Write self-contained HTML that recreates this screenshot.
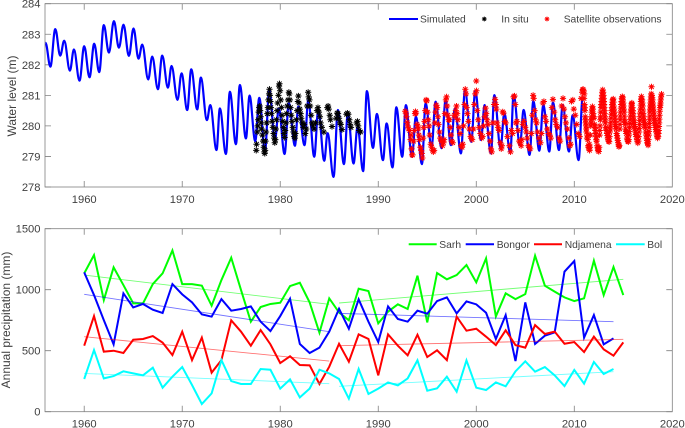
<!DOCTYPE html>
<html lang="en">
<head>
<meta charset="utf-8">
<title>Water level and annual precipitation</title>
<style>
html,body{margin:0;padding:0;background:#fff;}
svg{display:block;font-family:"Liberation Sans",Arial,sans-serif;filter:blur(0.3px);}
text{fill:#404040;}
</style>
</head>
<body>
<svg id="chart" xmlns="http://www.w3.org/2000/svg" width="685" height="428" viewBox="0 0 685 428">
  <text transform="translate(16 96) rotate(-90)" text-anchor="middle" font-size="12">Water level (m)</text>
  <text transform="translate(10 320) rotate(-90)" text-anchor="middle" font-size="12">Annual precipitation (mm)</text>

  <g font-size="10.3">
    <line x1="389" x2="418" y1="19" y2="19" stroke="#0000ff" stroke-width="2"/>
    <text x="420" y="22.5">Simulated</text>
    <text x="501.3" y="22.5">In situ</text>
    <text x="563.7" y="22.5">Satellite observations</text>
  </g>
  <g font-size="10.3">
    <line x1="408.7" x2="436.7" y1="244.3" y2="244.3" stroke="#00ff00" stroke-width="2"/>
    <text x="439.3" y="248">Sarh</text>
    <line x1="465.7" x2="494" y1="244.3" y2="244.3" stroke="#0000ff" stroke-width="2"/>
    <text x="496.7" y="248">Bongor</text>
    <line x1="534" x2="562" y1="244.3" y2="244.3" stroke="#ff0000" stroke-width="2"/>
    <text x="564.7" y="248">Ndjamena</text>
    <line x1="616" x2="644.7" y1="244.3" y2="244.3" stroke="#00ffff" stroke-width="2"/>
    <text x="647.3" y="248">Bol</text>
  </g>
</svg>
<script>
const xTickLabels = [1960, 1970, 1980, 1990, 2000, 2010, 2020];
const levelTickLabels = [278, 279, 280, 281, 282, 283, 284];
const precipTickLabels = [0, 500, 1000, 1500];

const simulatedExtrema = [[1956.05,282.72],[1956.55,281.94],[1957.05,283.17],[1957.55,282.3],[1957.96,282.79],[1958.54,281.81],[1958.95,282.5],[1959.52,281.48],[1960,282.61],[1960.54,281.59],[1961.02,282.69],[1961.53,281.76],[1962,283.3],[1962.52,282.4],[1963.03,283.43],[1963.54,282.56],[1964.01,283.31],[1964.56,282.29],[1965.03,283.19],[1965.54,282.2],[1965.92,282.66],[1966.53,281.52],[1966.94,282.27],[1967.52,281.2],[1967.96,282.3],[1968.54,281.25],[1968.91,281.96],[1969.52,280.85],[1969.93,281.72],[1970.51,280.52],[1970.92,281.85],[1971.53,280.54],[1971.9,281.58],[1972.52,280.19],[1972.86,280.68],[1973.5,279.21],[1973.84,280.57],[1974.46,279.08],[1974.86,281.12],[1975.48,279.4],[1975.88,281.34],[1976.5,279.59],[1976.87,280.99],[1977.45,279.5],[1977.86,280.92],[1978.44,279.16],[1978.88,281.17],[1979.46,279.54],[1979.86,280.57],[1980.44,279.08],[1980.88,280.74],[1981.5,279.35],[1981.84,280.63],[1982.48,279.37],[1982.86,280.85],[1983.47,278.99],[1983.88,280.52],[1984.49,278.86],[1984.83,279.76],[1985.44,278.33],[1985.88,280.52],[1986.5,278.75],[1986.9,280.41],[1987.48,278.77],[1987.89,279.97],[1988.46,278.52],[1988.84,281.14],[1989.46,279.28],[1989.86,280.39],[1990.48,278.88],[1990.85,280.08],[1991.46,278.64],[1991.84,280.61],[1992.45,278.99],[1992.82,280.68],[1993.44,278.99],[1993.84,280.3],[1994.46,278.75],[1994.83,280.74],[1995.44,279.32],[1995.85,280.79],[1996.46,279.27],[1996.87,280.85],[1997.41,279.37],[1997.82,280.57],[1998.44,279.1],[1998.84,281.17],[1999.49,279.48],[1999.9,281.15],[2000.48,279.54],[2000.85,280.68],[2001.5,279.1],[2001.84,281.01],[2002.48,279.27],[2002.86,280.41],[2003.47,279.12],[2003.81,281.01],[2004.46,279.37],[2004.83,280.52],[2005.44,279.05],[2005.82,280.81],[2006.43,279.19],[2006.84,280.68],[2007.45,279.16],[2007.82,280.77],[2008.44,279.21],[2008.81,280.68],[2009.46,279.16],[2009.83,280.35],[2010.44,278.88],[2010.85,280.9]];

const inSituObs = [[1977.55,279.2],[1977.58,279.4],[1977.65,279.8],[1977.7,280],[1977.75,280.2],[1977.8,280.45],[1977.85,280.6],[1977.9,280.65],[1977.95,280.5],[1978,280.3],[1978.05,280.1],[1978.1,279.9],[1978.18,279.7],[1978.25,279.5],[1978.32,279.3],[1978.38,279.15],[1978.42,279.1],[1978.46,279.2],[1978.5,279.5],[1978.55,279.8],[1978.62,280.1],[1978.68,280.4],[1978.74,280.6],[1978.8,280.85],[1978.86,281.05],[1978.9,281.2],[1978.95,281],[1979,280.8],[1979.05,280.6],[1979.1,280.4],[1979.18,280.15],[1979.25,279.95],[1979.32,279.75],[1979.38,279.6],[1979.44,279.45],[1979.5,279.55],[1979.55,279.9],[1979.62,280.2],[1979.68,280.5],[1979.74,280.75],[1979.82,281],[1979.88,281.3],[1979.92,281.38],[1979.98,281.15],[1980.05,280.85],[1980.12,280.6],[1980.18,280.35],[1980.25,280.15],[1980.32,279.95],[1980.38,279.75],[1980.45,279.62],[1980.5,279.85],[1980.58,280.1],[1980.65,280.4],[1980.72,280.65],[1980.8,280.85],[1980.88,281.1],[1980.92,281.05],[1980.98,280.85],[1981.05,280.6],[1981.12,280.35],[1981.2,280.15],[1981.28,279.95],[1981.35,279.8],[1981.42,279.65],[1981.5,279.6],[1981.55,279.75],[1981.65,280.2],[1981.72,280.5],[1981.8,280.8],[1981.85,280.98],[1981.92,280.75],[1982,280.55],[1982.08,280.4],[1982.15,280.25],[1982.25,280.1],[1982.35,279.95],[1982.45,280.05],[1982.55,279.75],[1982.65,279.9],[1982.75,280.65],[1982.85,281.1],[1982.9,280.95],[1982.98,280.85],[1983.05,280.65],[1983.15,280.35],[1983.25,280.1],[1983.35,280],[1983.45,279.9],[1983.6,280.1],[1983.75,280.5],[1983.85,280.6],[1983.95,280.45],[1984.05,280.3],[1984.12,280.1],[1984.25,279.95],[1984.45,279.8],[1984.8,280.6],[1984.88,280.65],[1984.95,280.55],[1985.05,280.35],[1985.12,280.2],[1985.28,279.98],[1985.7,280.25],[1985.8,280.42],[1985.9,280.4],[1986,280.25],[1986.1,280.1],[1986.18,280.05],[1986.3,279.88],[1986.75,280.38],[1986.85,280.42],[1986.95,280.38],[1987.05,280.2],[1987.12,280.05],[1987.22,279.95],[1987.8,280.1],[1987.88,280.15],[1987.95,280],[1988.05,279.85],[1988.2,279.8]];

const satelliteObs = [[1992.75,280.48],[1992.82,280.42],[1992.88,280.3],[1992.95,280.12],[1993,280],[1993.1,279.9],[1993.2,279.85],[1993.3,279.55],[1993.35,279.7],[1993.4,279.25],[1993.45,279.05],[1993.5,279.05],[1993.6,279.5],[1993.68,279.85],[1993.75,280.4],[1993.8,280.47],[1993.85,280.42],[1993.95,280.05],[1994.02,280],[1994.08,279.9],[1994.15,279.7],[1994.2,279.55],[1994.3,279.3],[1994.38,279.2],[1994.45,279.1],[1994.5,278.95],[1994.58,279.6],[1994.65,279.95],[1994.72,280.15],[1994.8,280.5],[1994.88,280.85],[1994.95,280.82],[1995.02,280.45],[1995.1,280.2],[1995.18,280],[1995.25,279.7],[1995.35,279.4],[1995.45,279.3],[1995.55,279.2],[1995.62,279.15],[1995.7,279.2],[1995.78,280.1],[1995.85,280.45],[1995.92,280.68],[1996,280.6],[1996.08,280.3],[1996.15,280.05],[1996.25,279.8],[1996.32,279.6],[1996.42,279.5],[1996.55,279.35],[1996.65,279.45],[1996.72,279.55],[1996.8,280.4],[1996.9,280.85],[1996.97,280.95],[1997.02,280.65],[1997.1,280.35],[1997.18,280.2],[1997.25,280.2],[1997.35,279.95],[1997.42,279.7],[1997.5,279.5],[1997.6,279.45],[1997.75,280.35],[1997.85,280.3],[1997.92,280.5],[1997.98,280.65],[1998.05,280.4],[1998.12,280.2],[1998.25,279.95],[1998.35,279.75],[1998.45,279.35],[1998.55,279.3],[1998.62,279.4],[1998.7,280],[1998.8,280.7],[1998.88,281.2],[1998.95,281.05],[1999.02,280.6],[1999.1,280.4],[1999.2,280.15],[1999.3,279.9],[1999.42,279.65],[1999.5,279.6],[1999.58,279.55],[1999.7,279.9],[1999.8,280.7],[1999.9,281.05],[2000,281.47],[2000.02,281.15],[2000.1,280.5],[2000.2,280.2],[2000.3,279.95],[2000.42,279.75],[2000.55,279.6],[2000.65,279.65],[2000.75,280],[2000.85,280.3],[2000.95,280.58],[2001.02,280.4],[2001.1,280.2],[2001.2,280.05],[2001.3,279.75],[2001.42,279.5],[2001.5,279.25],[2001.58,279.15],[2001.7,280.1],[2001.82,280.7],[2001.92,280.87],[2002,280.7],[2002.05,280.55],[2002.12,280.1],[2002.22,279.95],[2002.32,279.85],[2002.45,279.45],[2002.55,279.25],[2002.62,279.35],[2002.7,280.46],[2002.78,280.42],[2002.9,280.15],[2003,280.1],[2003.18,279.65],[2003.38,279.35],[2003.5,279.15],[2003.58,279.85],[2003.7,279.75],[2003.8,280.95],[2003.9,280.98],[2003.98,280.7],[2004.05,280.1],[2004.15,280.15],[2004.25,279.85],[2004.38,279.5],[2004.48,279.45],[2004.58,279.35],[2004.65,279.55],[2004.75,280.05],[2004.85,280.15],[2005,279.95],[2005.1,279.8],[2005.2,279.6],[2005.32,279.35],[2005.42,279.3],[2005.5,279.25],[2005.62,279.75],[2005.72,280.35],[2005.8,281],[2005.86,280.9],[2005.95,280.5],[2006.05,280.2],[2006.15,280.1],[2006.25,279.8],[2006.4,279.6],[2006.55,279.45],[2006.65,279.75],[2006.8,280.75],[2006.9,280.8],[2007,280.3],[2007.12,280.15],[2007.25,279.9],[2007.4,279.75],[2007.5,279.7],[2007.6,279.6],[2007.72,280.6],[2007.82,280.87],[2007.95,280.45],[2008.05,280.2],[2008.15,280.05],[2008.3,279.95],[2008.45,279.6],[2008.55,279.5],[2008.72,280.65],[2008.85,280.9],[2008.95,280.55],[2009.05,280.3],[2009.15,280.1],[2009.3,279.9],[2009.45,279.6],[2009.55,279.35],[2009.62,279.4],[2009.72,280.8],[2009.85,280.85],[2009.95,280.55],[2010.1,280.35],[2010.25,280.05],[2010.4,279.75],[2010.55,279.65],[2010.7,280.9],[2010.8,281.1],[2010.85,281.18],[2010.9,281.2],[2010.95,281.15],[2011,280.9],[2011.04,280.7],[2011.08,280.5],[2011.12,280.3],[2011.16,280.1],[2011.2,280],[2011.25,279.8],[2011.3,279.6],[2011.38,279.55],[2011.42,279.35],[2011.5,279.25],[2011.56,279.2],[2011.6,279.3],[2011.64,279.7],[2011.68,280],[2011.72,280.2],[2011.78,280.45],[2011.85,280.63],[2011.9,280.55],[2011.94,280.4],[2012,280.25],[2012.05,280.05],[2012.1,279.95],[2012.15,279.85],[2012.22,279.65],[2012.28,279.5],[2012.34,279.35],[2012.42,279.2],[2012.5,279.16],[2012.54,279.3],[2012.58,279.7],[2012.62,280],[2012.66,280.2],[2012.7,280.45],[2012.75,280.7],[2012.8,280.9],[2012.85,281.1],[2012.9,281.18],[2012.95,281.1],[2013,280.9],[2013.04,280.7],[2013.08,280.5],[2013.12,280.3],[2013.16,280.1],[2013.22,279.95],[2013.28,279.85],[2013.34,279.75],[2013.42,279.6],[2013.5,279.5],[2013.56,279.48],[2013.62,279.8],[2013.68,280],[2013.74,280.25],[2013.8,280.5],[2013.86,280.7],[2013.92,280.85],[2013.98,280.88],[2014.02,280.65],[2014.08,280.45],[2014.14,280.25],[2014.2,280.05],[2014.26,279.9],[2014.32,279.75],[2014.4,279.6],[2014.48,279.45],[2014.55,279.32],[2014.6,279.35],[2014.64,279.9],[2014.68,280.2],[2014.72,280.45],[2014.78,280.7],[2014.85,280.9],[2014.9,280.96],[2014.96,280.85],[2015.02,280.65],[2015.08,280.45],[2015.12,280.2],[2015.18,280.05],[2015.24,279.9],[2015.3,279.75],[2015.38,279.6],[2015.46,279.5],[2015.52,279.48],[2015.58,279.7],[2015.64,279.95],[2015.7,280.2],[2015.76,280.45],[2015.82,280.65],[2015.88,280.75],[2015.94,280.6],[2016,280.4],[2016.06,280.2],[2016.12,280.05],[2016.18,279.9],[2016.25,279.8],[2016.32,279.65],[2016.4,279.55],[2016.48,279.44],[2016.54,279.5],[2016.6,279.8],[2016.66,280.05],[2016.7,280.3],[2016.75,280.55],[2016.8,280.8],[2016.85,280.96],[2016.92,280.85],[2016.98,280.65],[2017.04,280.4],[2017.1,280.2],[2017.16,280.05],[2017.22,279.95],[2017.3,279.8],[2017.38,279.6],[2017.46,279.45],[2017.53,279.37],[2017.6,279.7],[2017.64,279.95],[2017.68,280.2],[2017.72,280.45],[2017.76,280.65],[2017.8,280.85],[2017.85,281.05],[2017.88,281.28],[2017.92,281],[2017.98,280.85],[2018.04,280.65],[2018.1,280.45],[2018.16,280.25],[2018.22,280.1],[2018.28,279.95],[2018.35,279.8],[2018.42,279.7],[2018.5,279.6],[2018.56,279.65],[2018.62,279.85],[2018.66,280.1],[2018.7,280.35],[2018.75,280.6],[2018.8,280.75],[2018.85,280.95],[2018.9,281.04]];

const satelliteObsRecent = [[2011.02,281.05],[2011.06,280.6],[2011.14,280.2],[2011.22,279.9],[2011.33,279.7],[2011.45,279.3],[2011.53,279.4],[2011.7,280.1],[2011.75,280.3],[2011.82,280.55],[2011.97,280.3],[2012.08,280],[2012.18,279.75],[2012.25,279.55],[2012.38,279.28],[2012.46,279.25],[2012.6,279.85],[2012.68,280.3],[2012.73,280.6],[2012.78,280.8],[2012.83,281],[2012.98,281],[2013.02,280.8],[2013.06,280.6],[2013.1,280.4],[2013.14,280.2],[2013.25,279.9],[2013.38,279.68],[2013.46,279.55],[2013.6,279.65],[2013.66,279.9],[2013.72,280.12],[2013.78,280.38],[2013.84,280.6],[2013.9,280.78],[2014,280.78],[2014.05,280.55],[2014.11,280.35],[2014.17,280.15],[2014.23,279.98],[2014.36,279.68],[2014.44,279.52],[2014.52,279.38],[2014.66,280.05],[2014.7,280.32],[2014.75,280.58],[2014.82,280.8],[2014.93,280.92],[2015,280.75],[2015.05,280.55],[2015.1,280.32],[2015.15,280.12],[2015.27,279.82],[2015.42,279.55],[2015.55,279.55],[2015.61,279.82],[2015.67,280.08],[2015.73,280.32],[2015.79,280.55],[2015.85,280.72],[2015.97,280.5],[2016.03,280.3],[2016.09,280.12],[2016.15,279.98],[2016.28,279.72],[2016.44,279.5],[2016.57,279.65],[2016.63,279.92],[2016.68,280.18],[2016.72,280.42],[2016.78,280.68],[2016.82,280.88],[2016.95,280.75],[2017.01,280.52],[2017.07,280.3],[2017.13,280.12],[2017.19,280],[2017.34,279.7],[2017.42,279.52],[2017.5,279.42],[2017.57,279.55],[2017.62,279.82],[2017.66,280.08],[2017.7,280.32],[2017.74,280.55],[2017.78,280.75],[2017.82,280.95],[2017.95,280.92],[2018.01,280.75],[2018.07,280.55],[2018.13,280.35],[2018.19,280.18],[2018.25,280.02],[2018.32,279.88],[2018.46,279.65],[2018.59,279.75],[2018.64,279.98],[2018.68,280.22],[2018.72,280.48],[2018.78,280.68],[2018.82,280.85]];

const precipStartYear = 1960;
const sarhPrecip = [1134,1284,915,1183,1038,888,888,1046,1134,1322,1046,1046,1033,869,1079,1262,997,738,858,883,893,1030,1057,896,648,929,814,749,1008,989,724,820,880,842,1115,732,1137,1085,1120,1202,1060,1257,781,970,923,964,1279,1033,984,937,907,929,1238,956,1186,956];
const bongorPrecip = [1142,956,751,552,970,855,883,836,809,1046,962,896,798,779,923,828,842,863,738,661,784,926,555,481,525,656,844,680,921,738,571,863,760,738,828,803,907,937,806,904,880,811,596,792,415,896,555,623,650,1148,1235,607,792,552,601];
const ndjamenaPrecip = [541,784,492,500,481,590,596,620,566,464,656,423,607,320,423,749,656,541,669,552,399,454,383,380,227,369,557,410,634,596,298,634,541,462,631,448,503,423,779,664,680,615,546,667,546,525,710,637,656,557,571,489,615,511,459,568];
const bolPrecip = [268,505,273,292,331,314,298,361,197,287,366,219,63,150,423,251,227,227,350,344,189,265,117,189,344,314,268,107,350,145,189,240,216,273,421,172,191,287,164,421,197,178,240,208,331,413,328,366,298,210,342,230,407,309,350];

const sarhTrend = [[1960,1120],[1985,880],[1986,891],[2015,1085]];
const bongorTrend = [[1960,962],[1985,656],[1986,806],[2014,738]];
const ndjamenaTrend = [[1960,615],[1985,415],[1986,541],[2015,593]];
const bolTrend = [[1960,314],[1985,230],[1986,208],[2014,328]];

const SVG_NS = 'http://www.w3.org/2000/svg';
const svg = document.getElementById('chart');
const X_LEFT = 45, X_RIGHT = 672.3;
const xScale = year => X_LEFT + (year - 1956) / (2020 - 1956) * (X_RIGHT - X_LEFT);
const levelScale = v => 187 + (v - 278) / (284 - 278) * (3.7 - 187);
const precipScale = v => 411.7 + v / 1500 * (228.7 - 411.7);

function make(tag, attrs, parent) {
  const el = document.createElementNS(SVG_NS, tag);
  for (const k in attrs) el.setAttribute(k, attrs[k]);
  (parent || svg).appendChild(el);
  return el;
}
function starPath(cx, cy, r) {
  const d = r * 0.707;
  return `M${cx - r} ${cy}H${cx + r}M${cx} ${cy - r}V${cy + r}M${cx - d} ${cy - d}L${cx + d} ${cy + d}M${cx - d} ${cy + d}L${cx + d} ${cy - d}`;
}

function drawAxes(name, top, bottom, yTicks, yScale) {
  const g = make('g', {});
  
  
  const box = make('rect', {x: X_LEFT, y: top, width: X_RIGHT - X_LEFT, height: bottom - top, fill: 'none', stroke: '#808080', 'stroke-width': 0.8}, g);
  
  
  xTickLabels.forEach(year => {
    const x = xScale(year);
    if (year < 2020) {
      const t1 = make('path', {d: `M${x} ${bottom}V${bottom - 6}M${x} ${top}V${top + 6}`, stroke: '#808080', 'stroke-width': 0.8, fill: 'none'}, g);
      
      
    }
    const label = make('text', {x: x, y: bottom + 16, 'text-anchor': 'middle', 'font-size': 11.2}, g);
    
    
    label.textContent = year;
  });
  yTicks.forEach(v => {
    const y = yScale(v);
    const t2 = make('path', {d: `M${X_LEFT} ${y}H${X_LEFT + 6}M${X_RIGHT} ${y}H${X_RIGHT - 6}`, stroke: '#808080', 'stroke-width': 0.8, fill: 'none'}, g);
    
    
    const label = make('text', {x: 40.5, y: y + 4, 'text-anchor': 'end', 'font-size': 11.2}, g);
    
    
    label.textContent = v;
  });
}
drawAxes('water-level', 3.7, 187, levelTickLabels, levelScale);
drawAxes('precipitation', 228.7, 411.7, precipTickLabels, precipScale);

/* simulated water level: smooth curve through the read peaks and troughs */
let simD = '';
simulatedExtrema.forEach((p, i) => {
  const x = xScale(p[0]), y = levelScale(p[1]);
  if (i === 0) { simD = `M${x} ${y}`; return; }
  const q = simulatedExtrema[i - 1];
  const px = xScale(q[0]), py = levelScale(q[1]), h = (x - px) * 0.37;
  simD += `C${px + h} ${py} ${x - h} ${y} ${x} ${y}`;
});
const simLine = make('path', {d: simD, fill: 'none', stroke: '#0000ff', 'stroke-width': 2.2, 'stroke-linejoin': 'round'});



function drawStars(name, points, color) {
  const g = make('g', {fill: 'none', stroke: color, 'stroke-width': 1});
  
  
  points.forEach(p => {
    const star = make('path', {d: starPath(xScale(p[0]), levelScale(p[1]), 3.1)}, g);
    
    
  });
}
drawStars('in-situ', inSituObs, '#000000');
drawStars('satellite', satelliteObs, '#ff0000');
drawStars('satellite-recent', satelliteObsRecent, '#ff0000');

const legendInSitu = make('path', {d: starPath(484.3, 19, 2.4), fill: 'none', stroke: '#000000', 'stroke-width': 0.95});


const legendSatellite = make('path', {d: starPath(547, 19, 2.4), fill: 'none', stroke: '#ff0000', 'stroke-width': 0.95});



/* precipitation series and their two-segment trends */
function drawPrecip(name, values, trend, color) {
  const g = make('g', {fill: 'none', stroke: color});
  
  
  for (let s = 0; s < trend.length; s += 2) {
    const a = trend[s], b = trend[s + 1];
    const seg = make('line', {x1: xScale(a[0]), y1: precipScale(a[1]), x2: xScale(b[0]), y2: precipScale(b[1]), 'stroke-width': 0.9, 'stroke-opacity': 0.55}, g);
    
    
  }
  const d = values.map((v, i) => `${i ? 'L' : 'M'}${xScale(precipStartYear + i)} ${precipScale(v)}`).join('');
  const line = make('path', {d: d, 'stroke-width': 2, 'stroke-linejoin': 'miter'}, g);
  
  
}
drawPrecip('sarh', sarhPrecip, sarhTrend, '#00ff00');
drawPrecip('bongor', bongorPrecip, bongorTrend, '#0000ff');
drawPrecip('ndjamena', ndjamenaPrecip, ndjamenaTrend, '#ff0000');
drawPrecip('bol', bolPrecip, bolTrend, '#00ffff');
</script>
</body>
</html>
